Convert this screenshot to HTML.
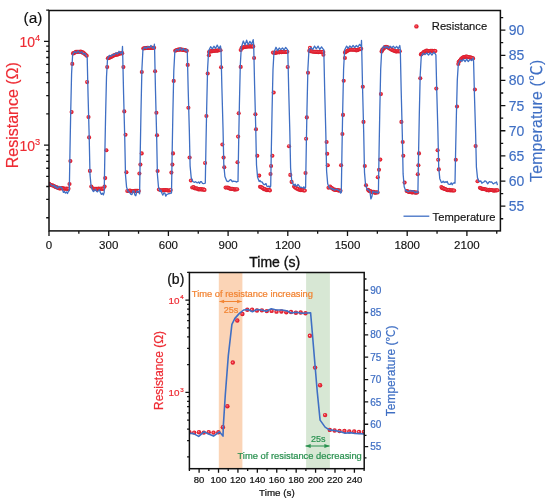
<!DOCTYPE html>
<html><head><meta charset="utf-8"><title>Resistance and temperature vs time</title>
<style>html,body{margin:0;padding:0;background:#fff;}body{width:550px;height:501px;overflow:hidden;}svg{display:block;}</style>
</head><body>
<svg width="550" height="501" viewBox="0 0 550 501">
<defs><radialGradient id="g" cx="0.5" cy="0.5" r="0.5" fx="0.4" fy="0.4"><stop offset="0" stop-color="#ffe0e0"/><stop offset="0.28" stop-color="#f24a55"/><stop offset="0.6" stop-color="#ea2434"/><stop offset="1" stop-color="#d41a2a"/></radialGradient><clipPath id="ca"><rect x="49" y="10.5" width="451.4" height="220.4"/></clipPath><clipPath id="cb"><rect x="189.4" y="272.5" width="174.8" height="196.2"/></clipPath><marker id="ao" viewBox="0 0 6 6" refX="5.5" refY="3" markerWidth="6" markerHeight="6" orient="auto-start-reverse" markerUnits="userSpaceOnUse"><path d="M1 1.3L6 3L1 4.7z" fill="#f28433"/></marker><marker id="ag" viewBox="0 0 6 6" refX="5.5" refY="3" markerWidth="6" markerHeight="6" orient="auto-start-reverse" markerUnits="userSpaceOnUse"><path d="M0.5 1.1L6 3L0.5 4.9z" fill="#2a9150"/></marker></defs>
<rect width="550" height="501" fill="#fff"/>
<g clip-path="url(#ca)">
<g fill="url(#g)"><circle cx="49.3" cy="183.86" r="2.05"/><circle cx="50.31" cy="184.73" r="2.05"/><circle cx="51.32" cy="185.19" r="2.05"/><circle cx="52.33" cy="185.32" r="2.05"/><circle cx="53.34" cy="185.77" r="2.05"/><circle cx="54.35" cy="186.22" r="2.05"/><circle cx="55.36" cy="186.88" r="2.05"/><circle cx="56.37" cy="186.98" r="2.05"/><circle cx="57.38" cy="187.68" r="2.05"/><circle cx="58.39" cy="187.9" r="2.05"/><circle cx="59.41" cy="188.44" r="2.05"/><circle cx="60.42" cy="188.53" r="2.05"/><circle cx="61.43" cy="188.12" r="2.05"/><circle cx="62.44" cy="188.38" r="2.05"/><circle cx="63.45" cy="188.37" r="2.05"/><circle cx="64.46" cy="188.81" r="2.05"/><circle cx="65.47" cy="188.79" r="2.05"/><circle cx="66.48" cy="188.43" r="2.05"/><circle cx="67.49" cy="188.94" r="2.05"/><circle cx="68.5" cy="188.65" r="2.05"/><circle cx="69.5" cy="184" r="2.05"/><circle cx="70.4" cy="161.1" r="2.05"/><circle cx="71.6" cy="112.1" r="2.05"/><circle cx="72.3" cy="63.9" r="2.05"/><circle cx="73" cy="53.4" r="2.05"/><circle cx="73.98" cy="53.11" r="2.05"/><circle cx="74.96" cy="52.53" r="2.05"/><circle cx="75.94" cy="51.84" r="2.05"/><circle cx="76.91" cy="51.87" r="2.05"/><circle cx="77.89" cy="51.7" r="2.05"/><circle cx="78.87" cy="51.82" r="2.05"/><circle cx="79.85" cy="51.81" r="2.05"/><circle cx="80.83" cy="51.67" r="2.05"/><circle cx="81.81" cy="52.34" r="2.05"/><circle cx="82.79" cy="52.41" r="2.05"/><circle cx="83.76" cy="53.06" r="2.05"/><circle cx="84.74" cy="54.07" r="2.05"/><circle cx="85.72" cy="54.7" r="2.05"/><circle cx="86.7" cy="55.79" r="2.05"/><circle cx="87.1" cy="82.1" r="2.05"/><circle cx="88.5" cy="117.1" r="2.05"/><circle cx="89.1" cy="137.4" r="2.05"/><circle cx="89.9" cy="170.9" r="2.05"/><circle cx="91.3" cy="186.5" r="2.05"/><circle cx="93.5" cy="188.56" r="2.05"/><circle cx="94.49" cy="189" r="2.05"/><circle cx="95.48" cy="188.82" r="2.05"/><circle cx="96.47" cy="188.88" r="2.05"/><circle cx="97.46" cy="189.14" r="2.05"/><circle cx="98.45" cy="188.59" r="2.05"/><circle cx="99.44" cy="188.91" r="2.05"/><circle cx="100.43" cy="188.76" r="2.05"/><circle cx="101.42" cy="188.49" r="2.05"/><circle cx="102.41" cy="189.01" r="2.05"/><circle cx="103.4" cy="188.6" r="2.05"/><circle cx="104.6" cy="186.5" r="2.05"/><circle cx="105.2" cy="178.1" r="2.05"/><circle cx="106.4" cy="150.3" r="2.05"/><circle cx="107.2" cy="67.1" r="2.05"/><circle cx="107.9" cy="58.29" r="2.05"/><circle cx="108.92" cy="57.9" r="2.05"/><circle cx="109.94" cy="57.38" r="2.05"/><circle cx="110.96" cy="56.98" r="2.05"/><circle cx="111.99" cy="56.45" r="2.05"/><circle cx="113.01" cy="56.04" r="2.05"/><circle cx="114.03" cy="55.32" r="2.05"/><circle cx="115.05" cy="54.96" r="2.05"/><circle cx="116.07" cy="54.64" r="2.05"/><circle cx="117.09" cy="54.62" r="2.05"/><circle cx="118.11" cy="54.37" r="2.05"/><circle cx="119.14" cy="53.73" r="2.05"/><circle cx="120.16" cy="53.54" r="2.05"/><circle cx="121.18" cy="53.37" r="2.05"/><circle cx="122.2" cy="53.17" r="2.05"/><circle cx="123.4" cy="67.1" r="2.05"/><circle cx="124.3" cy="111.4" r="2.05"/><circle cx="125.5" cy="134.7" r="2.05"/><circle cx="126.4" cy="172.2" r="2.05"/><circle cx="127.3" cy="191" r="2.05"/><circle cx="129" cy="190.89" r="2.05"/><circle cx="129.98" cy="190.54" r="2.05"/><circle cx="130.96" cy="191.2" r="2.05"/><circle cx="131.94" cy="191.27" r="2.05"/><circle cx="132.92" cy="191.01" r="2.05"/><circle cx="133.9" cy="191.24" r="2.05"/><circle cx="134.88" cy="190.81" r="2.05"/><circle cx="135.86" cy="190.91" r="2.05"/><circle cx="136.84" cy="190.83" r="2.05"/><circle cx="137.82" cy="190.92" r="2.05"/><circle cx="138.8" cy="191.09" r="2.05"/><circle cx="139.4" cy="173.5" r="2.05"/><circle cx="140.4" cy="164.6" r="2.05"/><circle cx="141.7" cy="153.4" r="2.05"/><circle cx="141.8" cy="72" r="2.05"/><circle cx="143.3" cy="48.56" r="2.05"/><circle cx="144.28" cy="48.19" r="2.05"/><circle cx="145.26" cy="48.1" r="2.05"/><circle cx="146.25" cy="48.01" r="2.05"/><circle cx="147.23" cy="47.91" r="2.05"/><circle cx="148.21" cy="47.74" r="2.05"/><circle cx="149.19" cy="48.05" r="2.05"/><circle cx="150.17" cy="48.06" r="2.05"/><circle cx="151.15" cy="47.82" r="2.05"/><circle cx="152.14" cy="47.88" r="2.05"/><circle cx="153.12" cy="47.74" r="2.05"/><circle cx="154.1" cy="47.8" r="2.05"/><circle cx="155.1" cy="71.3" r="2.05"/><circle cx="156.4" cy="112.8" r="2.05"/><circle cx="157" cy="135.2" r="2.05"/><circle cx="157.6" cy="171" r="2.05"/><circle cx="158.9" cy="189.5" r="2.05"/><circle cx="160.9" cy="190.23" r="2.05"/><circle cx="161.88" cy="190.22" r="2.05"/><circle cx="162.86" cy="190.49" r="2.05"/><circle cx="163.84" cy="190.01" r="2.05"/><circle cx="164.82" cy="189.93" r="2.05"/><circle cx="165.8" cy="190.23" r="2.05"/><circle cx="166.78" cy="190.06" r="2.05"/><circle cx="167.76" cy="190.45" r="2.05"/><circle cx="168.74" cy="190.48" r="2.05"/><circle cx="169.72" cy="190.45" r="2.05"/><circle cx="170.7" cy="189.98" r="2.05"/><circle cx="171.4" cy="172.6" r="2.05"/><circle cx="172.4" cy="164.6" r="2.05"/><circle cx="173" cy="153.4" r="2.05"/><circle cx="173.7" cy="80.9" r="2.05"/><circle cx="175.2" cy="50.76" r="2.05"/><circle cx="176.17" cy="50.3" r="2.05"/><circle cx="177.13" cy="49.96" r="2.05"/><circle cx="178.1" cy="49.48" r="2.05"/><circle cx="179.07" cy="49.6" r="2.05"/><circle cx="180.03" cy="49.63" r="2.05"/><circle cx="181" cy="49.27" r="2.05"/><circle cx="181.97" cy="49.69" r="2.05"/><circle cx="182.93" cy="49.88" r="2.05"/><circle cx="183.9" cy="50.03" r="2.05"/><circle cx="184.87" cy="50.13" r="2.05"/><circle cx="185.83" cy="50.46" r="2.05"/><circle cx="186.8" cy="50.86" r="2.05"/><circle cx="187.7" cy="64.9" r="2.05"/><circle cx="188.4" cy="107.7" r="2.05"/><circle cx="189.6" cy="157.5" r="2.05"/><circle cx="190.9" cy="180.5" r="2.05"/><circle cx="192.2" cy="187.5" r="2.05"/><circle cx="193.6" cy="187.17" r="2.05"/><circle cx="194.59" cy="188.25" r="2.05"/><circle cx="195.58" cy="188.49" r="2.05"/><circle cx="196.57" cy="188.34" r="2.05"/><circle cx="197.56" cy="188.72" r="2.05"/><circle cx="198.55" cy="189.44" r="2.05"/><circle cx="199.55" cy="189.14" r="2.05"/><circle cx="200.54" cy="189.52" r="2.05"/><circle cx="201.53" cy="189.12" r="2.05"/><circle cx="202.52" cy="189.8" r="2.05"/><circle cx="203.51" cy="189.21" r="2.05"/><circle cx="204.5" cy="189.88" r="2.05"/><circle cx="205.1" cy="163" r="2.05"/><circle cx="206.4" cy="116" r="2.05"/><circle cx="207.7" cy="73.5" r="2.05"/><circle cx="208.9" cy="55.3" r="2.05"/><circle cx="209" cy="52.02" r="2.05"/><circle cx="209.96" cy="51.52" r="2.05"/><circle cx="210.92" cy="51.16" r="2.05"/><circle cx="211.88" cy="51.34" r="2.05"/><circle cx="212.83" cy="50.87" r="2.05"/><circle cx="213.79" cy="50.74" r="2.05"/><circle cx="214.75" cy="50.87" r="2.05"/><circle cx="215.71" cy="50.54" r="2.05"/><circle cx="216.67" cy="50.69" r="2.05"/><circle cx="217.62" cy="50.61" r="2.05"/><circle cx="218.58" cy="50.26" r="2.05"/><circle cx="219.54" cy="50.23" r="2.05"/><circle cx="220.5" cy="50.2" r="2.05"/><circle cx="221.1" cy="67.2" r="2.05"/><circle cx="222.4" cy="144.5" r="2.05"/><circle cx="223.6" cy="157.6" r="2.05"/><circle cx="224.3" cy="167.2" r="2.05"/><circle cx="225.6" cy="187.6" r="2.05"/><circle cx="227.3" cy="187.57" r="2.05"/><circle cx="228.29" cy="187.9" r="2.05"/><circle cx="229.28" cy="188.36" r="2.05"/><circle cx="230.27" cy="188.7" r="2.05"/><circle cx="231.26" cy="188.89" r="2.05"/><circle cx="232.25" cy="188.75" r="2.05"/><circle cx="233.24" cy="189.04" r="2.05"/><circle cx="234.23" cy="189.58" r="2.05"/><circle cx="235.22" cy="189.33" r="2.05"/><circle cx="236.21" cy="189.54" r="2.05"/><circle cx="237.2" cy="189.18" r="2.05"/><circle cx="237.5" cy="162.2" r="2.05"/><circle cx="238.1" cy="136.6" r="2.05"/><circle cx="238.7" cy="113.3" r="2.05"/><circle cx="240.7" cy="66.9" r="2.05"/><circle cx="240.7" cy="50" r="2.05"/><circle cx="241.7" cy="47.69" r="2.05"/><circle cx="242.66" cy="47.64" r="2.05"/><circle cx="243.62" cy="47.2" r="2.05"/><circle cx="244.57" cy="46.93" r="2.05"/><circle cx="245.53" cy="46.73" r="2.05"/><circle cx="246.49" cy="46.76" r="2.05"/><circle cx="247.45" cy="46.47" r="2.05"/><circle cx="248.41" cy="46.51" r="2.05"/><circle cx="249.37" cy="46.4" r="2.05"/><circle cx="250.33" cy="46.41" r="2.05"/><circle cx="251.28" cy="46.5" r="2.05"/><circle cx="252.24" cy="46.38" r="2.05"/><circle cx="253.2" cy="46.42" r="2.05"/><circle cx="254.1" cy="58" r="2.05"/><circle cx="255.4" cy="114.2" r="2.05"/><circle cx="256" cy="129.2" r="2.05"/><circle cx="257.3" cy="155.8" r="2.05"/><circle cx="259.2" cy="175.6" r="2.05"/><circle cx="260" cy="186.77" r="2.05"/><circle cx="260.99" cy="187.01" r="2.05"/><circle cx="261.98" cy="187.65" r="2.05"/><circle cx="262.97" cy="188.22" r="2.05"/><circle cx="263.96" cy="189.25" r="2.05"/><circle cx="264.95" cy="189.1" r="2.05"/><circle cx="265.94" cy="189.77" r="2.05"/><circle cx="266.93" cy="190.13" r="2.05"/><circle cx="267.92" cy="189.71" r="2.05"/><circle cx="268.91" cy="189.91" r="2.05"/><circle cx="269.9" cy="190.39" r="2.05"/><circle cx="270.5" cy="174" r="2.05"/><circle cx="271.1" cy="166" r="2.05"/><circle cx="272.4" cy="155.7" r="2.05"/><circle cx="273.7" cy="92.5" r="2.05"/><circle cx="273" cy="52.6" r="2.05"/><circle cx="274.4" cy="52.97" r="2.05"/><circle cx="275.39" cy="52.85" r="2.05"/><circle cx="276.38" cy="52.6" r="2.05"/><circle cx="277.38" cy="52.36" r="2.05"/><circle cx="278.37" cy="52.26" r="2.05"/><circle cx="279.36" cy="52.36" r="2.05"/><circle cx="280.35" cy="51.94" r="2.05"/><circle cx="281.35" cy="52.14" r="2.05"/><circle cx="282.34" cy="52.02" r="2.05"/><circle cx="283.33" cy="51.76" r="2.05"/><circle cx="284.32" cy="51.92" r="2.05"/><circle cx="285.32" cy="52.06" r="2.05"/><circle cx="286.31" cy="52.01" r="2.05"/><circle cx="287.3" cy="51.78" r="2.05"/><circle cx="287.7" cy="67" r="2.05"/><circle cx="289" cy="146.2" r="2.05"/><circle cx="290.3" cy="174.9" r="2.05"/><circle cx="291.6" cy="181.9" r="2.05"/><circle cx="294.1" cy="186.44" r="2.05"/><circle cx="295.07" cy="187.6" r="2.05"/><circle cx="296.05" cy="187.8" r="2.05"/><circle cx="297.02" cy="188.75" r="2.05"/><circle cx="297.99" cy="188.88" r="2.05"/><circle cx="298.96" cy="189.77" r="2.05"/><circle cx="299.94" cy="189.6" r="2.05"/><circle cx="300.91" cy="190.29" r="2.05"/><circle cx="301.88" cy="190.01" r="2.05"/><circle cx="302.85" cy="190.1" r="2.05"/><circle cx="303.83" cy="190.45" r="2.05"/><circle cx="304.8" cy="190.54" r="2.05"/><circle cx="305.5" cy="173" r="2.05"/><circle cx="306.1" cy="138.8" r="2.05"/><circle cx="306.8" cy="117.4" r="2.05"/><circle cx="308" cy="72.7" r="2.05"/><circle cx="310" cy="47.8" r="2.05"/><circle cx="309.3" cy="50.81" r="2.05"/><circle cx="310.3" cy="51.23" r="2.05"/><circle cx="311.3" cy="51.3" r="2.05"/><circle cx="312.3" cy="51.45" r="2.05"/><circle cx="313.3" cy="51.69" r="2.05"/><circle cx="314.3" cy="51.78" r="2.05"/><circle cx="315.3" cy="51.85" r="2.05"/><circle cx="316.3" cy="51.91" r="2.05"/><circle cx="317.3" cy="51.9" r="2.05"/><circle cx="318.3" cy="52.13" r="2.05"/><circle cx="319.3" cy="51.92" r="2.05"/><circle cx="320.3" cy="52.07" r="2.05"/><circle cx="321.3" cy="51.95" r="2.05"/><circle cx="322.3" cy="52.08" r="2.05"/><circle cx="323.3" cy="51.96" r="2.05"/><circle cx="323.4" cy="54.8" r="2.05"/><circle cx="326.6" cy="142" r="2.05"/><circle cx="327.2" cy="153.8" r="2.05"/><circle cx="327.8" cy="165.3" r="2.05"/><circle cx="328.5" cy="187.7" r="2.05"/><circle cx="330.1" cy="186.45" r="2.05"/><circle cx="331.14" cy="187.69" r="2.05"/><circle cx="332.18" cy="188.22" r="2.05"/><circle cx="333.22" cy="189.25" r="2.05"/><circle cx="334.26" cy="189.65" r="2.05"/><circle cx="335.3" cy="189.9" r="2.05"/><circle cx="336.34" cy="189.97" r="2.05"/><circle cx="337.38" cy="190.01" r="2.05"/><circle cx="338.42" cy="190.62" r="2.05"/><circle cx="339.46" cy="190.22" r="2.05"/><circle cx="340.5" cy="190.77" r="2.05"/><circle cx="341.1" cy="165.3" r="2.05"/><circle cx="342.4" cy="134" r="2.05"/><circle cx="343" cy="114.9" r="2.05"/><circle cx="343.7" cy="80.7" r="2.05"/><circle cx="344.9" cy="58" r="2.05"/><circle cx="345" cy="52.39" r="2.05"/><circle cx="346.01" cy="51.7" r="2.05"/><circle cx="347.02" cy="51.05" r="2.05"/><circle cx="348.04" cy="50.45" r="2.05"/><circle cx="349.05" cy="49.63" r="2.05"/><circle cx="350.06" cy="49.7" r="2.05"/><circle cx="351.07" cy="49.53" r="2.05"/><circle cx="352.09" cy="49.81" r="2.05"/><circle cx="353.1" cy="49.74" r="2.05"/><circle cx="354.11" cy="49.72" r="2.05"/><circle cx="355.12" cy="49.77" r="2.05"/><circle cx="356.14" cy="50.33" r="2.05"/><circle cx="357.15" cy="50.2" r="2.05"/><circle cx="358.16" cy="49.85" r="2.05"/><circle cx="359.18" cy="49.3" r="2.05"/><circle cx="360.19" cy="49.12" r="2.05"/><circle cx="361.2" cy="48.79" r="2.05"/><circle cx="362.8" cy="86.8" r="2.05"/><circle cx="363.5" cy="121.9" r="2.05"/><circle cx="364.8" cy="166" r="2.05"/><circle cx="366" cy="185.2" r="2.05"/><circle cx="368" cy="189.87" r="2.05"/><circle cx="368.96" cy="190.63" r="2.05"/><circle cx="369.92" cy="191.13" r="2.05"/><circle cx="370.88" cy="191.3" r="2.05"/><circle cx="371.84" cy="192.13" r="2.05"/><circle cx="372.8" cy="192.2" r="2.05"/><circle cx="373.76" cy="191.86" r="2.05"/><circle cx="374.72" cy="192.68" r="2.05"/><circle cx="375.68" cy="192.64" r="2.05"/><circle cx="376.64" cy="192.2" r="2.05"/><circle cx="377.6" cy="192.5" r="2.05"/><circle cx="377.8" cy="177.2" r="2.05"/><circle cx="379" cy="169.8" r="2.05"/><circle cx="380.3" cy="159.6" r="2.05"/><circle cx="380.9" cy="94.1" r="2.05"/><circle cx="381.6" cy="51.6" r="2.05"/><circle cx="382.1" cy="50.16" r="2.05"/><circle cx="383.08" cy="49.07" r="2.05"/><circle cx="384.07" cy="48.25" r="2.05"/><circle cx="385.05" cy="47.17" r="2.05"/><circle cx="386.03" cy="46.8" r="2.05"/><circle cx="387.02" cy="47.06" r="2.05"/><circle cx="388" cy="47.47" r="2.05"/><circle cx="388.98" cy="48.02" r="2.05"/><circle cx="389.97" cy="48.65" r="2.05"/><circle cx="390.95" cy="49.05" r="2.05"/><circle cx="391.93" cy="49.95" r="2.05"/><circle cx="392.92" cy="50.3" r="2.05"/><circle cx="393.9" cy="50.7" r="2.05"/><circle cx="394.88" cy="51.06" r="2.05"/><circle cx="395.87" cy="51.45" r="2.05"/><circle cx="396.85" cy="51.44" r="2.05"/><circle cx="397.83" cy="51.12" r="2.05"/><circle cx="398.82" cy="51.43" r="2.05"/><circle cx="399.8" cy="51.32" r="2.05"/><circle cx="401.4" cy="121.9" r="2.05"/><circle cx="402.7" cy="142" r="2.05"/><circle cx="403.3" cy="155.8" r="2.05"/><circle cx="404.6" cy="182.6" r="2.05"/><circle cx="406.6" cy="191" r="2.05"/><circle cx="407.65" cy="191.33" r="2.05"/><circle cx="408.7" cy="191.85" r="2.05"/><circle cx="409.75" cy="192" r="2.05"/><circle cx="410.8" cy="191.8" r="2.05"/><circle cx="411.85" cy="192.43" r="2.05"/><circle cx="412.9" cy="192.4" r="2.05"/><circle cx="413.95" cy="192.07" r="2.05"/><circle cx="415" cy="192.61" r="2.05"/><circle cx="416.05" cy="192.64" r="2.05"/><circle cx="417.1" cy="192.51" r="2.05"/><circle cx="417.8" cy="174.2" r="2.05"/><circle cx="418.4" cy="165.2" r="2.05"/><circle cx="419" cy="153.4" r="2.05"/><circle cx="420.3" cy="78.3" r="2.05"/><circle cx="420.9" cy="54.4" r="2.05"/><circle cx="421.6" cy="53.81" r="2.05"/><circle cx="422.59" cy="53.34" r="2.05"/><circle cx="423.57" cy="52.14" r="2.05"/><circle cx="424.56" cy="51.67" r="2.05"/><circle cx="425.54" cy="51.19" r="2.05"/><circle cx="426.53" cy="50.67" r="2.05"/><circle cx="427.51" cy="50.84" r="2.05"/><circle cx="428.5" cy="50.96" r="2.05"/><circle cx="429.49" cy="51.03" r="2.05"/><circle cx="430.47" cy="50.77" r="2.05"/><circle cx="431.46" cy="50.68" r="2.05"/><circle cx="432.44" cy="50.68" r="2.05"/><circle cx="433.43" cy="51.11" r="2.05"/><circle cx="434.41" cy="50.8" r="2.05"/><circle cx="435.4" cy="51.04" r="2.05"/><circle cx="436.3" cy="88.6" r="2.05"/><circle cx="437.6" cy="150.2" r="2.05"/><circle cx="438.2" cy="159.8" r="2.05"/><circle cx="438.8" cy="169.4" r="2.05"/><circle cx="441.4" cy="187" r="2.05"/><circle cx="442.2" cy="188.32" r="2.05"/><circle cx="443.2" cy="188.11" r="2.05"/><circle cx="444.2" cy="188.91" r="2.05"/><circle cx="445.2" cy="189.12" r="2.05"/><circle cx="446.2" cy="189.47" r="2.05"/><circle cx="447.2" cy="190.12" r="2.05"/><circle cx="448.2" cy="190.26" r="2.05"/><circle cx="449.2" cy="189.92" r="2.05"/><circle cx="450.2" cy="190.51" r="2.05"/><circle cx="451.2" cy="190.25" r="2.05"/><circle cx="452.2" cy="190.39" r="2.05"/><circle cx="453.2" cy="190.57" r="2.05"/><circle cx="454.2" cy="190.44" r="2.05"/><circle cx="455.8" cy="159.8" r="2.05"/><circle cx="457" cy="106.5" r="2.05"/><circle cx="458.3" cy="64" r="2.05"/><circle cx="458.7" cy="61.8" r="2.05"/><circle cx="459.73" cy="60.81" r="2.05"/><circle cx="460.76" cy="59.18" r="2.05"/><circle cx="461.79" cy="58.33" r="2.05"/><circle cx="462.81" cy="57.56" r="2.05"/><circle cx="463.84" cy="57.14" r="2.05"/><circle cx="464.87" cy="56.95" r="2.05"/><circle cx="465.9" cy="56.64" r="2.05"/><circle cx="466.93" cy="56.59" r="2.05"/><circle cx="467.96" cy="56.98" r="2.05"/><circle cx="468.99" cy="57.19" r="2.05"/><circle cx="470.01" cy="57.41" r="2.05"/><circle cx="471.04" cy="57.62" r="2.05"/><circle cx="472.07" cy="58.09" r="2.05"/><circle cx="473.1" cy="58.42" r="2.05"/><circle cx="474.9" cy="89.5" r="2.05"/><circle cx="475.6" cy="146.1" r="2.05"/><circle cx="477.5" cy="181.3" r="2.05"/><circle cx="479.9" cy="187.7" r="2.05"/><circle cx="480.88" cy="188.21" r="2.05"/><circle cx="481.86" cy="188.83" r="2.05"/><circle cx="482.83" cy="188.72" r="2.05"/><circle cx="483.81" cy="189.01" r="2.05"/><circle cx="484.79" cy="189.31" r="2.05"/><circle cx="485.77" cy="189.32" r="2.05"/><circle cx="486.74" cy="190.09" r="2.05"/><circle cx="487.72" cy="189.7" r="2.05"/><circle cx="488.7" cy="190.46" r="2.05"/><circle cx="489.68" cy="189.88" r="2.05"/><circle cx="490.66" cy="189.94" r="2.05"/><circle cx="491.63" cy="190.01" r="2.05"/><circle cx="492.61" cy="190.21" r="2.05"/><circle cx="493.59" cy="190.75" r="2.05"/><circle cx="494.57" cy="190.4" r="2.05"/><circle cx="495.54" cy="190.51" r="2.05"/><circle cx="496.52" cy="190.37" r="2.05"/><circle cx="497.5" cy="190.32" r="2.05"/></g>
<polyline fill="none" stroke="#3f6fc4" stroke-width="1.3" stroke-linejoin="round" points="49.3,183.88 50.31,183.92 51.32,185.15 52.33,185.89 53.34,185.95 54.35,185.14 55.36,187.78 56.37,186.14 57.38,188.75 58.39,187.27 59.41,186.44 60.42,187.51 61.43,187.25 62.44,189.77 63.45,192.44 64.46,191.53 65.47,193.01 66.48,191.96 67.49,193.47 68.5,191.1 69.3,190.68 70,149.55 70.7,112.7 71.6,73.11 72.6,55.2 73,53.74 74.71,51.43 76.42,52.91 78.14,50.79 79.85,53.13 81.56,51.7 83.28,54.1 84.99,53.38 86.7,56.78 87.2,57.5 88.1,96.7 89.2,136.9 90,174.42 91.1,186.48 92.7,190.5 93.5,191.59 94.49,190.52 95.48,189.29 96.47,191.27 97.46,191.93 98.45,190.63 99.44,189.57 100.43,192.69 101.42,194.34 102.41,193.13 103.4,194.9 104.2,192.31 104.9,151.45 105.6,115.41 106.5,76.69 107.5,59.2 107.9,58.18 109.49,55.41 111.08,56.18 112.67,54.51 114.26,54.95 115.84,52.84 117.43,54.1 119.02,51.3 120.61,53.61 122.2,51.39 122.5,46.5 122.7,54 123.6,94.55 124.7,136.1 125.5,174.88 126.6,187.34 128.2,191.5 129,192.06 129.98,192.93 130.96,194.38 131.94,194.68 132.92,190.83 133.9,190.85 134.88,194.94 135.86,195.72 136.84,191.1 137.82,191.57 138.8,191.48 139.6,193.81 140.3,149.8 141,110.92 141.9,69.16 142.9,50.2 143.3,49.04 144.84,47.02 146.39,48.67 147.93,46.6 149.47,47.72 151.01,45.47 152.56,48.23 154.1,46.62 154.4,44.2 154.6,49 155.5,91.05 156.6,134.1 157.4,174.28 158.5,187.19 160.1,191.5 160.9,189.99 161.88,193.18 162.86,195.08 163.84,192.98 164.82,192.97 165.8,196.2 166.78,194.46 167.76,194.1 168.74,193.68 169.72,193.62 170.7,193.06 171.5,193.03 172.2,150.4 172.9,112.06 173.8,70.88 174.8,52.2 175.2,50.9 176.86,49.3 178.51,50.3 180.17,47.97 181.83,50.4 183.49,48.54 185.14,50.78 186.8,49.22 187.3,52 188.2,90.15 189.3,129.3 190.1,165.84 191.2,177.58 192.8,181.5 193.6,181.89 194.59,182.31 195.58,181.72 196.57,182.6 197.56,182.77 198.55,181.93 199.55,183.39 200.54,181.66 201.53,181.75 202.52,183.46 203.51,183.65 204.5,183.38 205.3,183.03 206,143.1 206.7,107.19 207.6,68.62 208.6,51.2 209,49.94 210.64,46.7 212.29,48.93 213.93,46.26 215.57,48.42 217.21,45.08 218.86,48.55 220.5,45.97 221,49.5 221.9,88.1 223,127.7 223.8,164.66 224.9,176.54 226.5,180.5 227.3,181.47 228.29,181.6 229.28,180.78 230.27,179.64 231.26,180.14 232.25,181.72 233.24,181.04 234.23,181.34 235.22,181.34 236.21,182.08 237.2,181.64 238,181.37 238.7,140.85 239.4,104.27 240.3,64.97 241.3,47.2 241.7,46.18 243.34,41 244.99,45.11 246.63,40.16 248.27,44.79 249.91,41.33 251.56,44.26 253.2,39.64 253.7,45 254.6,85.25 255.7,126.5 256.5,165 257.6,177.38 259.2,181.5 260,180.56 260.99,181.85 261.98,181.83 262.97,183.44 263.96,184.53 264.95,184.56 265.94,183.57 266.93,186.22 267.92,186.68 268.91,185.97 269.9,187.36 270.7,186.24 271.4,145.7 272.1,108.98 273,69.54 274,51.7 274.4,51.19 276.01,47.23 277.62,50.65 279.24,48.04 280.85,49.62 282.46,47.93 284.08,49.98 285.69,47.46 287.3,49.33 287.8,50.5 288.7,90 289.8,130.5 290.6,168.3 291.7,180.45 293.3,184.5 294.1,185.57 295.07,184.15 296.05,186.14 297.02,185.84 297.99,184.44 298.96,185.67 299.94,187.28 300.91,187.19 301.88,187.61 302.85,187.9 303.83,186.81 304.8,188.61 305.6,187.4 306.3,146.1 307,108.84 307.9,68.82 308.9,50.7 309.3,49.45 311.05,47.57 312.8,49.56 314.55,46.11 316.3,48.79 318.05,46.12 319.8,49.43 321.55,46.87 323.3,49.32 323.8,49.8 324.7,90.56 325.8,132.32 326.6,171.3 327.7,183.82 329.3,188 330.1,187.99 331.14,188.08 332.18,189.36 333.22,188.73 334.26,190.22 335.3,189.71 336.34,189.06 337.38,189.51 338.42,190.47 339.46,190.35 340.5,193.11 341.3,192.51 342,149.1 342.7,110.49 343.6,69.02 344.6,50.2 345,49.2 346.62,46.17 348.24,48.24 349.86,45.84 351.48,47.58 353.1,45.4 354.72,47.6 356.34,45.51 357.96,47.02 359.58,44.31 361.2,46.43 361.5,40.5 361.7,47.5 362.6,89.4 363.7,132.3 364.5,172.34 365.6,185.21 367.2,189.5 368,189.61 368.96,190.32 369.92,191.36 370.88,198.94 371.84,196.78 372.8,191.27 373.76,192.21 374.72,191.71 375.68,192.62 376.64,191.84 377.6,193.21 378.4,192.71 379.1,149.1 379.8,110.49 380.7,69.02 381.7,50.2 382.1,49.2 383.71,46.09 385.32,48 386.93,46.22 388.54,48.35 390.15,46.23 391.75,47.77 393.36,46.21 394.97,48.43 396.58,46.36 398.19,48.71 399.8,45.54 400.3,49.5 401.2,91.25 402.3,134 403.1,173.9 404.2,186.72 405.8,191 406.6,190.69 407.65,191.63 408.7,191.6 409.75,190.35 410.8,190.96 411.85,191.24 412.9,190.63 413.95,191.45 415,192.7 416.05,191.81 417.1,192.41 417.9,192.7 418.6,151.55 419.3,114.7 420.2,75.11 421.2,57.2 421.6,55.84 423.33,53.23 425.05,54.65 426.78,52.99 428.5,55.02 430.23,52.75 431.95,55.09 433.68,52.24 435.4,53.93 435.9,55 436.8,92.55 437.9,131.1 438.7,167.08 439.8,178.64 441.4,182.5 442.2,182.46 443.2,181.19 444.2,182.53 445.2,181.74 446.2,182.32 447.2,181.52 448.2,183.95 449.2,184.28 450.2,184.29 451.2,182.89 452.2,184.73 453.2,183.03 454.2,182.87 455,183.07 455.7,147.35 456.4,114.82 457.3,79.87 458.3,64.2 458.7,63.25 460.3,59.97 461.9,61.25 463.5,59.28 465.1,61.61 466.7,59.1 468.3,61.54 469.9,59.45 471.5,60.53 473.1,58 473.6,61.5 474.5,96.8 475.6,133.1 476.4,166.98 477.5,177.87 479.1,181.5 479.9,181.41 480.88,180.92 481.86,183.34 482.83,182.36 483.81,182.14 484.79,180.92 485.77,181.17 486.74,182.27 487.72,183.77 488.7,182.33 489.68,181.57 490.66,182.18 491.63,181.95 492.61,183.18 493.59,183.9 494.57,182.87 495.54,182.86 496.52,181.9 497.5,185.09"/>
</g>
<rect x="49" y="10.5" width="451.4" height="220.4" fill="none" stroke="#111" stroke-width="1.5"/>
<path d="M49 230.9v5M78.85 230.9v2.8M108.7 230.9v5M138.55 230.9v2.8M168.4 230.9v5M198.25 230.9v2.8M228.1 230.9v5M257.95 230.9v2.8M287.8 230.9v5M317.65 230.9v2.8M347.5 230.9v5M377.35 230.9v2.8M407.2 230.9v5M437.05 230.9v2.8M466.9 230.9v5M496.75 230.9v2.8M49 217.75h-2.8M49 199.47h-2.8M49 186.51h-2.8M49 176.45h-2.8M49 168.23h-2.8M49 161.28h-2.8M49 155.26h-2.8M49 149.95h-2.8M49 145.2h-5M49 113.95h-2.8M49 95.67h-2.8M49 82.71h-2.8M49 72.65h-2.8M49 64.43h-2.8M49 57.48h-2.8M49 51.46h-2.8M49 46.15h-2.8M49 41.4h-5M49 10.15h-2.8M500.4 218.77h2.8M500.4 206.2h5M500.4 193.62h2.8M500.4 181.05h5M500.4 168.47h2.8M500.4 155.9h5M500.4 143.32h2.8M500.4 130.75h5M500.4 118.17h2.8M500.4 105.6h5M500.4 93.02h2.8M500.4 80.45h5M500.4 67.87h2.8M500.4 55.3h5M500.4 42.72h2.8M500.4 30.15h5M500.4 17.57h2.8" stroke="#111" stroke-width="1.3" fill="none"/>
<g font-family='"Liberation Sans", "Noto Sans CJK SC", sans-serif'>
<text x="23.6" y="22.9" font-size="15.4" fill="#111" stroke="#111" stroke-width="0.15">(a)</text>
<g font-size="11.5" fill="#111" text-anchor="middle" stroke="#111" stroke-width="0.15">
<text x="49" y="248.5">0</text>
<text x="108.7" y="248.5">300</text>
<text x="168.4" y="248.5">600</text>
<text x="228.1" y="248.5">900</text>
<text x="287.8" y="248.5">1200</text>
<text x="347.5" y="248.5">1500</text>
<text x="407.2" y="248.5">1800</text>
<text x="466.9" y="248.5">2100</text>
</g>
<text x="274.7" y="266.9" font-size="14" text-anchor="middle" fill="#111" stroke="#111" stroke-width="0.35">Time (s)</text>
<text x="19.5" y="46.8" font-size="14" fill="#ee2b33" stroke="#ee2b33" stroke-width="0.15">10<tspan font-size="9.3" dy="-5.6">4</tspan></text>
<text x="19.5" y="150.6" font-size="14" fill="#ee2b33" stroke="#ee2b33" stroke-width="0.15">10<tspan font-size="9.3" dy="-5.6">3</tspan></text>
<text transform="translate(18.1 168.3) rotate(-90)" font-size="16" fill="#ee2b33" stroke="#ee2b33" stroke-width="0.15">Resistance (&#937;)</text>
<g font-size="14" fill="#3f6fc4" stroke="#3f6fc4" stroke-width="0.15">
<text x="508.7" y="211.15">55</text>
<text x="508.7" y="186">60</text>
<text x="508.7" y="160.85">65</text>
<text x="508.7" y="135.7">70</text>
<text x="508.7" y="110.55">75</text>
<text x="508.7" y="85.4">80</text>
<text x="508.7" y="60.25">85</text>
<text x="508.7" y="35.1">90</text>
</g>
<text transform="translate(541.5 181.9) rotate(-90)" font-size="15.8" letter-spacing="0.19" fill="#3f6fc4" stroke="#3f6fc4" stroke-width="0.15">Temperature (&#8451;)</text>
<circle cx="416.4" cy="26.4" r="2.2" fill="url(#g)"/>
<text x="431.8" y="30.2" font-size="11.2" fill="#111" stroke="#111" stroke-width="0.15">Resistance</text>
<path d="M403.5 216.2H429.3" stroke="#3f6fc4" stroke-width="1.3"/>
<text x="432.6" y="220.6" font-size="11.2" fill="#111" stroke="#111" stroke-width="0.15">Temperature</text>
</g>

<rect x="218.8" y="272.5" width="23.6" height="196.2" fill="#fbd4b6"/>
<rect x="306.1" y="272.5" width="23.8" height="196.2" fill="#d7e7d4"/>
<g clip-path="url(#cb)">
<g fill="url(#g)"><circle cx="189.4" cy="432.2" r="2.2"/><circle cx="194.2" cy="432.6" r="2.2"/><circle cx="199" cy="432.2" r="2.2"/><circle cx="203.8" cy="432.6" r="2.2"/><circle cx="208.7" cy="432.2" r="2.2"/><circle cx="213.5" cy="432.6" r="2.2"/><circle cx="218.4" cy="432.2" r="2.2"/><circle cx="222.9" cy="427.2" r="2.2"/><circle cx="227.4" cy="406.2" r="2.2"/><circle cx="232.8" cy="362.5" r="2.2"/><circle cx="237.3" cy="320.5" r="2.2"/><circle cx="242.4" cy="314" r="2.2"/><circle cx="247.3" cy="309.8" r="2.2"/><circle cx="252.1" cy="309.8" r="2.2"/><circle cx="257" cy="310.57" r="2.2"/><circle cx="261.9" cy="310.35" r="2.2"/><circle cx="266.8" cy="311.12" r="2.2"/><circle cx="271.6" cy="310.89" r="2.2"/><circle cx="276.5" cy="311.66" r="2.2"/><circle cx="281.4" cy="311.44" r="2.2"/><circle cx="286.3" cy="312.21" r="2.2"/><circle cx="291" cy="311.98" r="2.2"/><circle cx="295.9" cy="312.75" r="2.2"/><circle cx="300.7" cy="312.53" r="2.2"/><circle cx="305.5" cy="313.3" r="2.2"/><circle cx="309.9" cy="335.8" r="2.2"/><circle cx="315.1" cy="367.6" r="2.2"/><circle cx="320.1" cy="385.2" r="2.2"/><circle cx="325.1" cy="415.1" r="2.2"/><circle cx="329.8" cy="429.9" r="2.2"/><circle cx="334.6" cy="430.5" r="2.2"/><circle cx="339.5" cy="431.05" r="2.2"/><circle cx="344.4" cy="431" r="2.2"/><circle cx="349.3" cy="431.55" r="2.2"/><circle cx="354.2" cy="431.5" r="2.2"/><circle cx="359" cy="432.05" r="2.2"/><circle cx="363.9" cy="432" r="2.2"/></g>
<polyline fill="none" stroke="#3f6fc4" stroke-width="1.6" stroke-linejoin="round" points="189.4,433.2 193.5,433.6 198.7,436.4 203.9,431.8 208.7,433.9 213.5,436.1 219.4,431.8 223,436.1 223.4,424.7 225.3,394.8 228.3,355.9 231.9,324.4 234.9,318.4 239.4,313.4 243.6,310 248,309.5 252.4,311.7 256.7,309.5 261.8,310 266.2,311.3 271.3,308.8 276.4,310 282.2,310 286.5,310.7 291.6,312.9 296.7,312.2 301.8,313.2 310.6,312.8 312.6,336.3 315.4,369.8 317.3,392.2 320.1,420.1 325.1,427.1 329.3,429.9 334.5,430.5 340,431.6 345,433.3 350,432.6 355,433.5 360,433.6 364.2,434"/>
</g>
<rect x="189.4" y="272.5" width="174.8" height="196.2" fill="none" stroke="#111" stroke-width="1.5"/>
<path d="M189.4 468.7v2.3M199.11 468.7v4M208.81 468.7v2.3M218.52 468.7v4M228.22 468.7v2.3M237.93 468.7v4M247.64 468.7v2.3M257.34 468.7v4M267.05 468.7v2.3M276.75 468.7v4M286.46 468.7v2.3M296.17 468.7v4M305.87 468.7v2.3M315.58 468.7v4M325.28 468.7v2.3M334.99 468.7v4M344.7 468.7v2.3M354.4 468.7v4M364.11 468.7v2.3M189.4 456.85h-2.3M189.4 440.61h-2.3M189.4 429.09h-2.3M189.4 420.15h-2.3M189.4 412.85h-2.3M189.4 406.68h-2.3M189.4 401.34h-2.3M189.4 396.62h-2.3M189.4 392.4h-4M189.4 364.65h-2.3M189.4 348.41h-2.3M189.4 336.89h-2.3M189.4 327.95h-2.3M189.4 320.65h-2.3M189.4 314.48h-2.3M189.4 309.14h-2.3M189.4 304.42h-2.3M189.4 300.2h-4M189.4 272.45h-2.3M364.2 457.78h2.3M364.2 446.6h4M364.2 435.43h2.3M364.2 424.25h4M364.2 413.08h2.3M364.2 401.9h4M364.2 390.73h2.3M364.2 379.55h4M364.2 368.38h2.3M364.2 357.2h4M364.2 346.03h2.3M364.2 334.85h4M364.2 323.68h2.3M364.2 312.5h4M364.2 301.33h2.3M364.2 290.15h4M364.2 278.98h2.3" stroke="#111" stroke-width="1.3" fill="none"/>
<g font-family='"Liberation Sans", "Noto Sans CJK SC", sans-serif'>
<text x="167.2" y="283.7" font-size="14" fill="#111" stroke="#111" stroke-width="0.22">(b)</text>
<g font-size="9.5" fill="#111" text-anchor="middle" stroke="#111" stroke-width="0.22">
<text x="199.11" y="482.5">80</text>
<text x="218.52" y="482.5">100</text>
<text x="237.93" y="482.5">120</text>
<text x="257.34" y="482.5">140</text>
<text x="276.75" y="482.5">160</text>
<text x="296.17" y="482.5">180</text>
<text x="315.58" y="482.5">200</text>
<text x="334.99" y="482.5">220</text>
<text x="354.4" y="482.5">240</text>
</g>
<text x="276.9" y="496" font-size="9.8" text-anchor="middle" fill="#111" stroke="#111" stroke-width="0.22">Time (s)</text>
<text x="168.4" y="303.7" font-size="9.9" fill="#ee2b33" stroke="#ee2b33" stroke-width="0.22">10<tspan font-size="6.2" dx="0.8" dy="-4.3">4</tspan></text>
<text x="168.4" y="395.9" font-size="9.9" fill="#ee2b33" stroke="#ee2b33" stroke-width="0.22">10<tspan font-size="6.2" dx="0.8" dy="-4.3">3</tspan></text>
<text transform="translate(162.5 409.9) rotate(-90)" font-size="11.9" fill="#ee2b33" stroke="#ee2b33" stroke-width="0.22">Resistance (&#937;)</text>
<g font-size="10" fill="#3f6fc4" stroke="#3f6fc4" stroke-width="0.22">
<text x="370.3" y="450.2">55</text>
<text x="370.3" y="427.85">60</text>
<text x="370.3" y="405.5">65</text>
<text x="370.3" y="383.15">70</text>
<text x="370.3" y="360.8">75</text>
<text x="370.3" y="338.45">80</text>
<text x="370.3" y="316.1">85</text>
<text x="370.3" y="293.75">90</text>
</g>
<text transform="translate(394.6 416.2) rotate(-90)" font-size="11.9" letter-spacing="0.05" fill="#3f6fc4" stroke="#3f6fc4" stroke-width="0.22">Temperature (&#8451;)</text>
<text x="191.8" y="296.6" font-size="9.35" fill="#f28433" stroke="#f28433" stroke-width="0.22">Time of resistance increasing</text>
<path d="M219.6 301.5H241.6" stroke="#f28433" stroke-width="1" marker-start="url(#ao)" marker-end="url(#ao)"/>
<text x="230.9" y="312.7" font-size="9" text-anchor="middle" fill="#f28433" stroke="#f28433" stroke-width="0.22">25s</text>
<text x="318.3" y="442.2" font-size="9" text-anchor="middle" fill="#2a9150" stroke="#2a9150" stroke-width="0.22">25s</text>
<path d="M305.7 446H329.4" stroke="#2a9150" stroke-width="1" marker-start="url(#ag)" marker-end="url(#ag)"/>
<text x="361.8" y="459.1" font-size="9.35" text-anchor="end" fill="#2a9150" stroke="#2a9150" stroke-width="0.22">Time of resistance decreasing</text>
</g>
</svg>
</body></html>
